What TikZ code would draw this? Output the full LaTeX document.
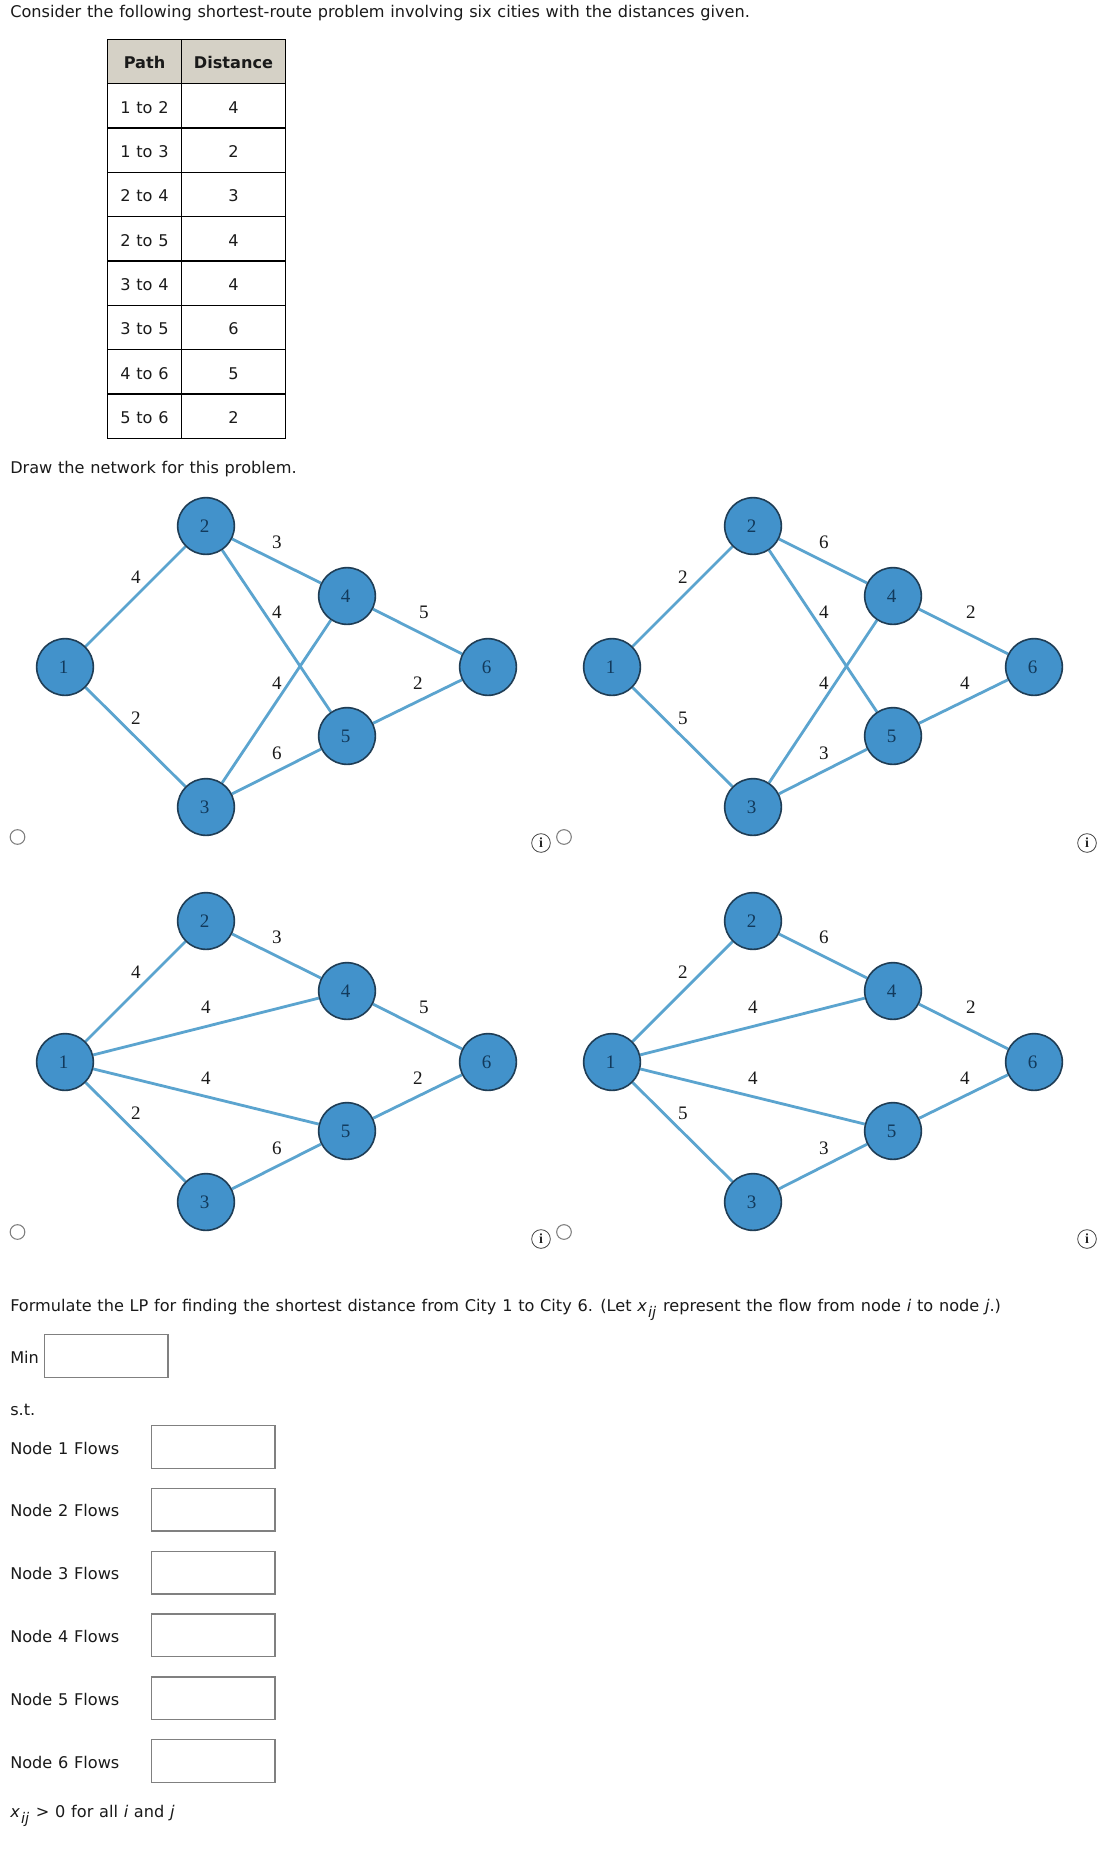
\documentclass[tikz,border=0pt]{standalone}
\usepackage{fontspec}
\setmainfont[WordSpace=1.12]{DejaVu Sans}
\newfontfamily\serifnum{Liberation Serif}
\usetikzlibrary{backgrounds}
\definecolor{cityfill}{HTML}{4292CB}
\definecolor{cityline}{HTML}{1F3D55}
\definecolor{citytext}{HTML}{123A5C}
\definecolor{edgecol}{HTML}{5BA4CF}
\definecolor{headfill}{HTML}{D5D1C6}
\definecolor{boxline}{HTML}{808080}
\definecolor{inktext}{HTML}{1A1A1A}
\tikzset{
  x=0.75pt,y=-0.75pt,
  txt/.style={inner sep=0pt,anchor=base west,text=inktext,font=\fontsize{12.1}{14}\selectfont},
  cell/.style={draw=black,line width=0.9pt,inner sep=0pt,minimum height=33.225pt,text height=11pt,text depth=0pt,text=inktext,font=\fontsize{12.1}{14}\selectfont},
  citynode/.style={circle,draw=cityline,line width=1.2pt,fill=cityfill,minimum size=42.5pt,inner sep=0pt,text=citytext,font=\serifnum\fontsize{14.3}{15}\selectfont},
  edgeline/.style={draw=edgecol,line width=2.1pt},
  elabel/.style={inner sep=0pt,text=inktext,font=\serifnum\fontsize{14.3}{15}\selectfont},
  inputbox/.style={draw=boxline,line width=1pt,inner sep=0pt,minimum width=92.5pt,minimum height=32pt},
  radio/.style={circle,draw=boxline,line width=0.8pt,fill=white,minimum size=11pt,inner sep=0pt},
  infoicon/.style={circle,draw=black!75,line width=0.6pt,minimum size=14pt,inner sep=0pt,text=black!85,font=\serifnum\bfseries\fontsize{10.5}{10.5}\selectfont},
}
\newcommand{\cnum}[1]{\hspace*{-2.2pt}#1}
\newcommand{\netnodes}[4]{%
  \begin{scope}[shift={(#2,#3)}]
    \node[citynode] (#1n1) at (65,667) {\cnum{1}};
    \node[citynode] (#1n2) at (206,526) {\cnum{2}};
    \node[citynode] (#1n3) at (206,807) {\cnum{3}};
    \node[citynode] (#1n4) at (347+#4,596) {\cnum{4}};
    \node[citynode] (#1n5) at (347+#4,736) {\cnum{5}};
    \node[citynode] (#1n6) at (488+#4,667) {\cnum{6}};
  \end{scope}}
\newcommand{\netedges}[2]{%
  \begin{pgfonlayer}{background}
    \foreach \a/\b in {#2}{\draw[edgeline] (#1n\a) -- (#1n\b);}
  \end{pgfonlayer}}
\newcommand{\netlabels}[4]{%
  \begin{scope}[shift={(#2-0.2,#3+0.3)}]
    \foreach \px/\py/\t [count=\i] in {#4}{\node[elabel] (#1l\i) at (\px,\py) {\t};}
  \end{scope}}
\newcommand{\xij}{\textit{x}\kern0.8pt\raisebox{-0.4em}{\fontsize{11}{12}\selectfont\textit{ij}}\kern0.8pt}
\begin{document}
\begin{tikzpicture}
\useasboundingbox (0,0) rectangle (1109,1855);
\begin{pgfonlayer}{background}
  \fill[white] (0,0) rectangle (1109,1855);
\end{pgfonlayer}
% heading
\node[txt] (intro) at (10,18) {Consider the following shortest-route problem involving six cities with the distances given.};
% table
\node[cell,fill=headfill,minimum width=55.5pt,font=\fontsize{12.1}{14}\selectfont\bfseries] (hpath) at (144.5,61.5) {Path};
\node[cell,fill=headfill,minimum width=78pt,font=\fontsize{12.1}{14}\selectfont\bfseries] (hdist) at (233.5,61.5) {Distance};
\foreach \p/\d [count=\r] in {1 to 2/4,1 to 3/2,2 to 4/3,2 to 5/4,3 to 4/4,3 to 5/6,4 to 6/5,5 to 6/2}{
  \pgfmathsetmacro{\yy}{83.8+(\r-0.5)*44.3}
  \node[cell,minimum width=55.5pt] (p\r) at (144.5,\yy) {\p};
  \node[cell,minimum width=78pt] (d\r) at (233.5,\yy) {\d};
}
\node[txt] (drawit) at (10,473) {Draw the network for this problem.};
% networks
\netnodes{a}{0}{0}{0}
\netedges{a}{1/2,1/3,2/4,2/5,3/4,3/5,4/6,5/6}
\netlabels{a}{0}{0}{136/577/4,136/718/2,277/542/3,277/612/4,277/683/4,277/753/6,424/612/5,418/683/2}
\netnodes{b}{547}{0}{-1}
\netedges{b}{1/2,1/3,2/4,2/5,3/4,3/5,4/6,5/6}
\netlabels{b}{547}{0}{136/577/2,136/718/5,277/542/6,277/612/4,277/683/4,277/753/3,424/612/2,418/683/4}
\netnodes{c}{0}{395}{0}
\netedges{c}{1/2,1/3,2/4,1/4,1/5,3/5,4/6,5/6}
\netlabels{c}{0}{395}{136/577/4,136/718/2,277/542/3,206/612/4,206/683/4,277/753/6,424/612/5,418/683/2}
\netnodes{d}{547}{395}{-1}
\netedges{d}{1/2,1/3,2/4,1/4,1/5,3/5,4/6,5/6}
\netlabels{d}{547}{395}{136/577/2,136/718/5,277/542/6,206/612/4,206/683/4,277/753/3,424/612/2,418/683/4}
% radio buttons and info icons
\node[radio] (ra) at (17.5,837) {};
\node[radio] (rb) at (564,837) {};
\node[radio] (rc) at (17.5,1232) {};
\node[radio] (rd) at (564,1232) {};
\node[infoicon] (ia) at (541,843) {i};
\node[infoicon] (ib) at (1087,843) {i};
\node[infoicon] (ic) at (541,1239) {i};
\node[infoicon] (id) at (1087,1239) {i};
% LP
\node[txt] (lp) at (10,1311) {Formulate the LP for finding the shortest distance from City 1 to City 6. (Let \xij{} represent the flow from node \textit{i} to node \textit{j}.)};
\node[txt] (minl) at (10,1363) {Min};
\node[inputbox,anchor=north west] (minb) at (44,1334) {};
\node[txt] (st) at (10,1415) {s.t.};
\foreach \n in {1,...,6}{
  \pgfmathsetmacro{\ty}{1425+(\n-1)*62.8}
  \pgfmathsetmacro{\by}{\ty+29}
  \node[inputbox,anchor=north west] (box\n) at (151,\ty) {};
  \node[txt] (flow\n) at (10,\by) {Node \n{} Flows};
}
\node[txt] (nonneg) at (10,1817) {\xij{} > 0 for all \textit{i} and \textit{j}};
\end{tikzpicture}
\end{document}
